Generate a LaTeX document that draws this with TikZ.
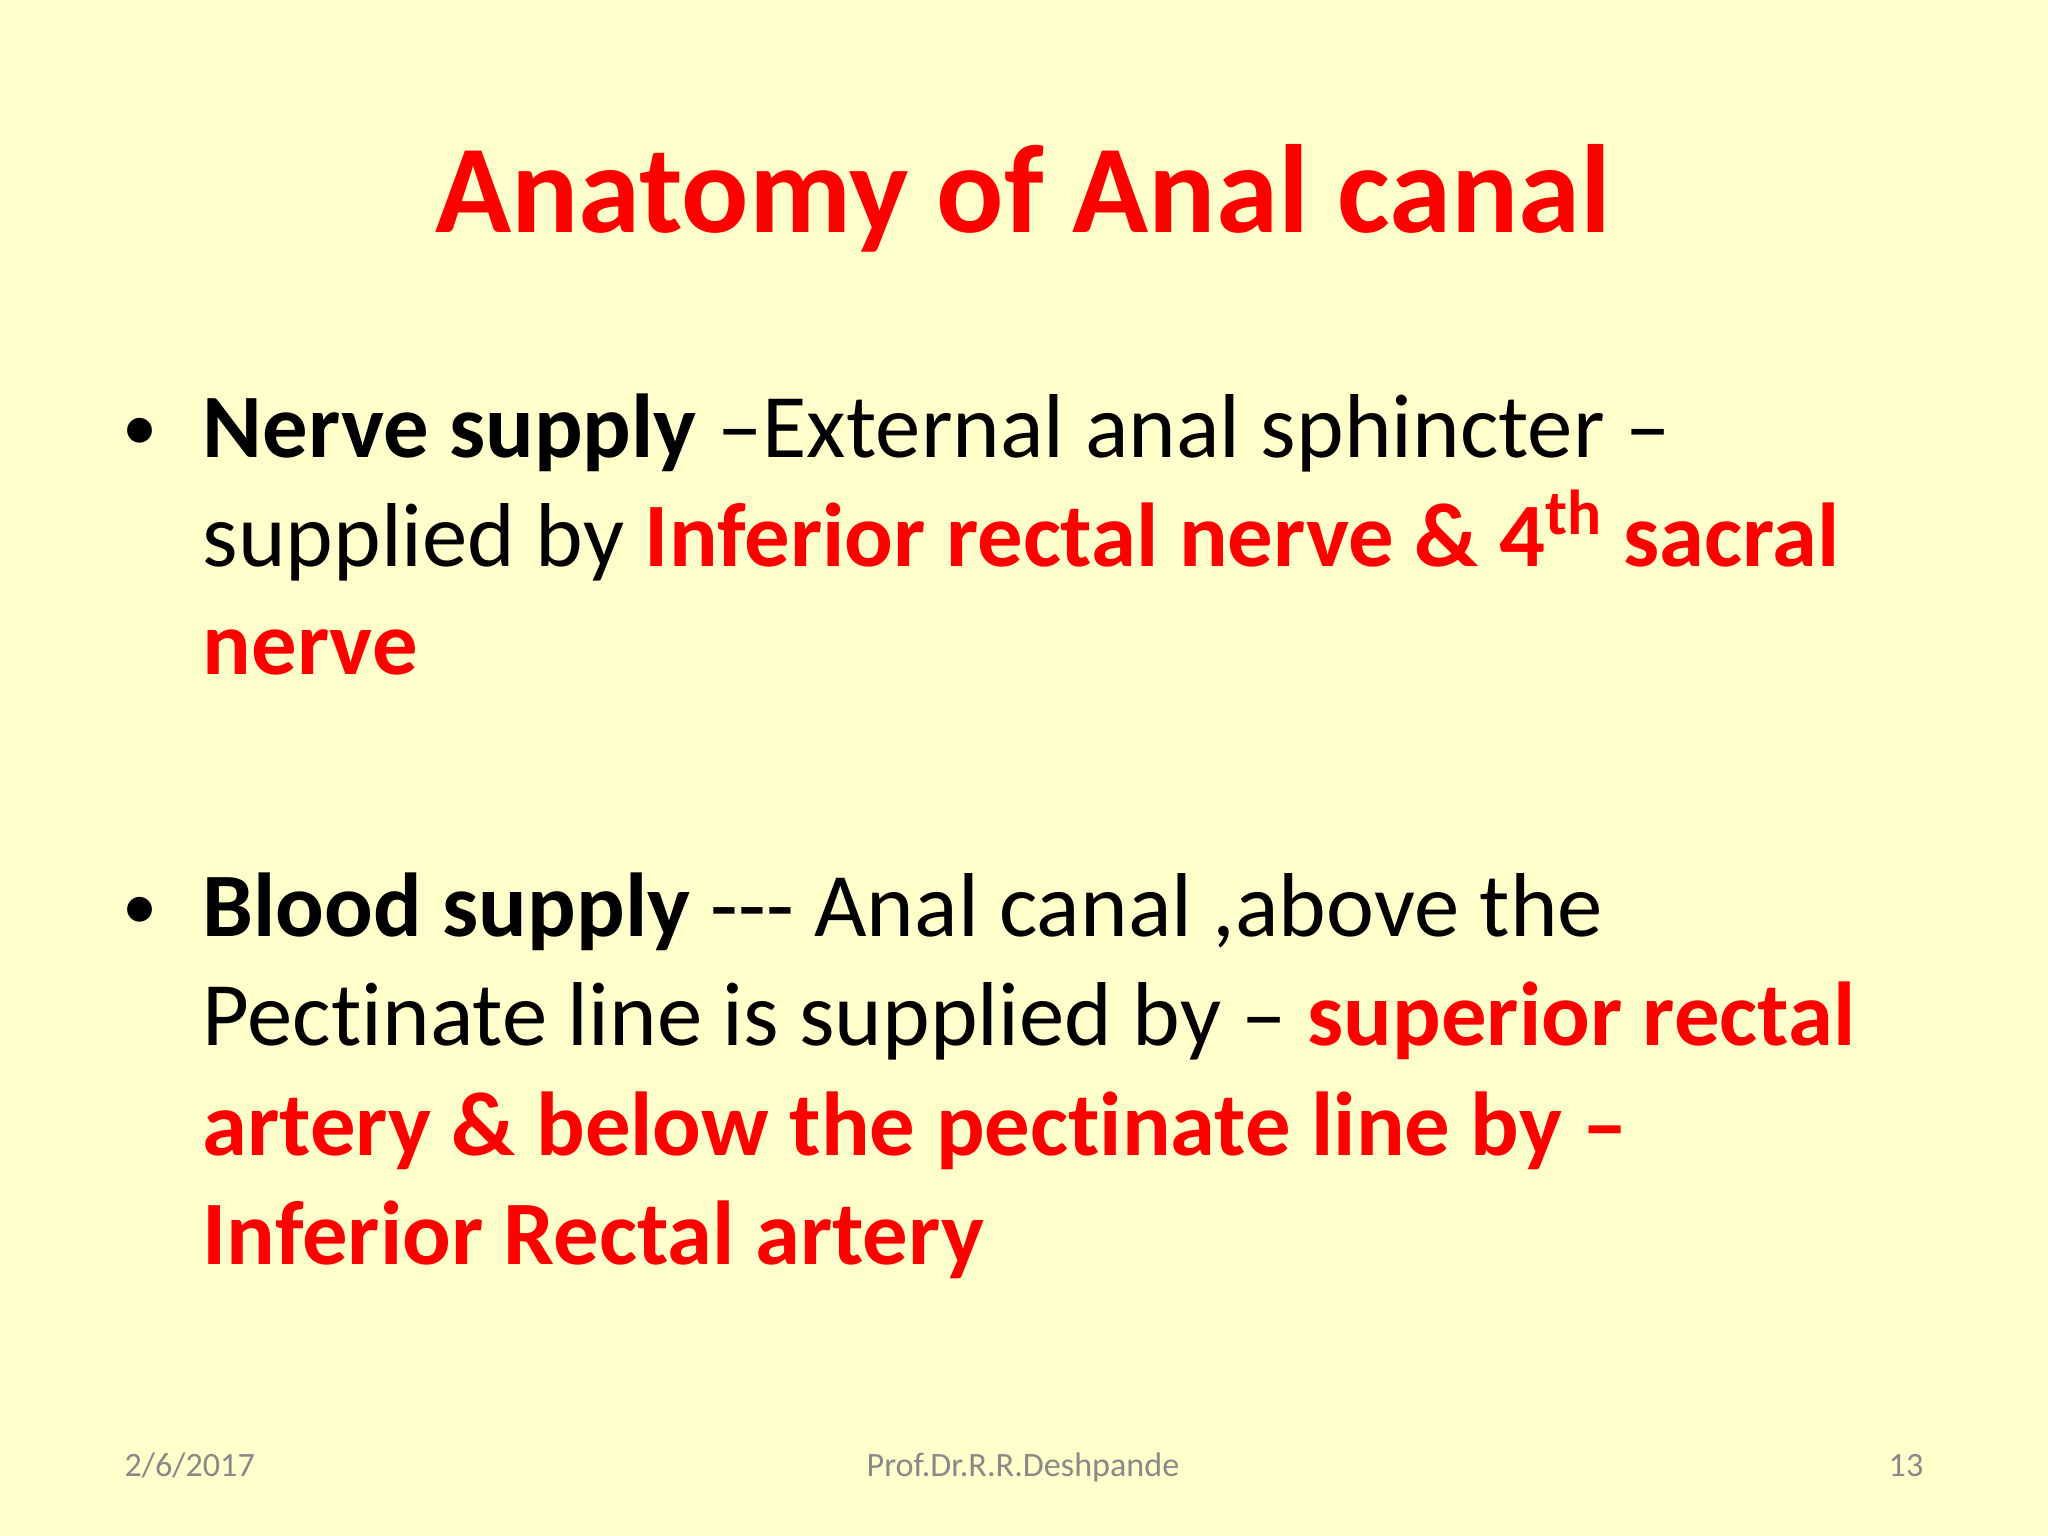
\documentclass[tikz,border=0pt]{standalone}
\usepackage{fontspec}
\setmainfont{Carlito}[Ligatures={NoCommon}]
\definecolor{bg}{RGB}{255,255,204}
\definecolor{rd}{RGB}{255,0,0}
\definecolor{ft}{RGB}{137,137,137}
\begin{document}
\begin{tikzpicture}[x=0.01cm,y=-0.01cm,
  ln/.style={anchor=base west,inner sep=0pt,font=\fontsize{25.8}{31}\selectfont},
  bul/.style={anchor=base,inner sep=0pt,font=\fontsize{20}{31}\selectfont},
  foot/.style={anchor=base,inner sep=0pt,font=\fontsize{9.7}{11}\selectfont,text=ft}]
\fill[bg] (0,0) rectangle (2048,1536);
\useasboundingbox (0,0) rectangle (2048,1536);
\node[anchor=base,inner sep=0pt,font=\fontsize{35.7}{40}\selectfont\bfseries,text=rd] (title) at (1023,232) {Anatomy of Anal canal};
\node[bul] (b1) at (140,450) {•};
\node[ln] (l1) at (202,457) {\textbf{Nerve supply} –External anal sphincter –};
\node[ln] (l2) at (202,566) {supplied by \textcolor{rd}{\textbf{Inferior rectal nerve \& 4\textsuperscript{th} sacral}}};
\node[ln,text=rd,font=\fontsize{25.8}{31}\selectfont\bfseries] (l3) at (202,674) {nerve};
\node[bul] (b2) at (140,929) {•};
\node[ln] (m1) at (202,936) {\textbf{Blood supply} {-}{-}{-} Anal canal ,above the};
\node[ln] (m2) at (202,1045) {Pectinate line is supplied by – \textcolor{rd}{\textbf{superior rectal}}};
\node[ln,text=rd,font=\fontsize{25.8}{31}\selectfont\bfseries] (m3) at (202,1155) {artery \& below the pectinate line by –};
\node[ln,text=rd,font=\fontsize{25.8}{31}\selectfont\bfseries] (m4) at (202,1264) {Inferior Rectal artery};
\node[foot,anchor=base west] (d) at (124,1476) {2/6/2017};
\node[foot] (a) at (1023,1476) {Prof.Dr.R.R.Deshpande};
\node[foot,anchor=base east] (p) at (1924,1476) {13};
\end{tikzpicture}
\end{document}
